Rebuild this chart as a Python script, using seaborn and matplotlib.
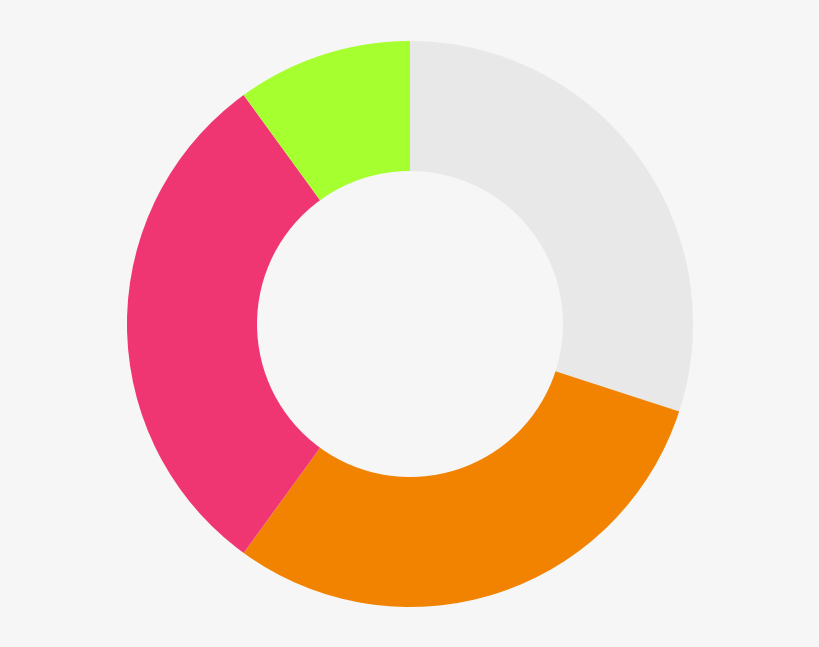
import matplotlib
matplotlib.use("Agg")
import matplotlib.pyplot as plt
import seaborn as sns

# Anteile der Segmente (im Uhrzeigersinn ab oben)
labels = ["Grau", "Orange", "Pink", "Grün"]
werte = [30, 30, 30, 10]
farben = ["#e8e8e8", "#f28300", "#f03672", "#a6ff2f"]

sns.set_theme(style="white", rc={"figure.facecolor": "#f6f6f6", "axes.facecolor": "#f6f6f6"})

fig = plt.figure(figsize=(8.2, 6.47), dpi=100)
ax = fig.add_axes([0, 0, 1, 1])
ax.pie(werte, colors=farben, startangle=90, counterclock=False,
       center=(410, 323), radius=283,
       wedgeprops={"width": 130, "linewidth": 0})
ax.set_xlim(0, 820)
ax.set_ylim(0, 647)
ax.set_aspect("equal")
ax.axis("off")

plt.savefig("out.png", dpi=100, facecolor=fig.get_facecolor())
plt.close()
